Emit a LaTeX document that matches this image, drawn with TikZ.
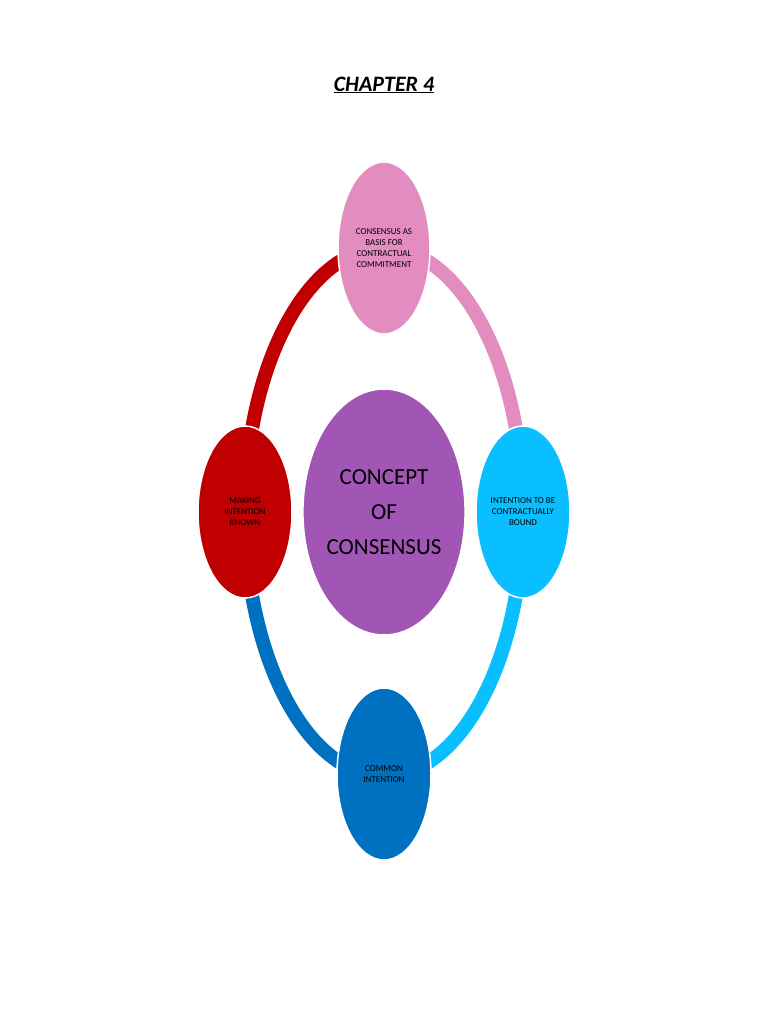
\documentclass[tikz,border=0pt]{standalone}
\usepackage{fontspec}
\setmainfont{Carlito}
\usetikzlibrary{shapes.geometric}
\definecolor{cpink}{HTML}{E38CBF}
\definecolor{cred}{HTML}{C00000}
\definecolor{cblue}{HTML}{0070C0}
\definecolor{clight}{HTML}{0ABFFF}
\definecolor{cpurple}{HTML}{A155B4}
\begin{document}
\begin{tikzpicture}[x=1pt,y=1pt,
  ring/.style={line width=14pt},
  bub/.style={ellipse,draw=white,line width=1.5pt,minimum width=94pt,minimum height=172pt,inner sep=0pt,align=center,font=\fontsize{9}{11}\selectfont,text=black}]
\useasboundingbox (0,0) rectangle (768,-1024);
\node (title) at (384,-85) {\fontsize{22}{24}\selectfont\bfseries\itshape\underline{CHAPTER 4}};
\draw[ring,cpink] (523,-512) arc[start angle=0,end angle=90,x radius=139,y radius=264];
\draw[ring,cred] (384,-248) arc[start angle=90,end angle=180,x radius=139,y radius=264];
\draw[ring,cblue] (245,-512) arc[start angle=180,end angle=270,x radius=139,y radius=264];
\draw[ring,clight] (384,-776) arc[start angle=270,end angle=360,x radius=139,y radius=264];
\node[bub,fill=cpink,minimum width=92pt,minimum height=172pt] (top) at (384,-248) {CONSENSUS AS\\BASIS FOR\\CONTRACTUAL\\COMMITMENT};
\node[bub,fill=cred] (left) at (245,-512) {MAKING\\INTENTION\\KNOWN};
\node[bub,fill=clight] (right) at (523,-512) {INTENTION TO BE\\CONTRACTUALLY\\BOUND};
\node[bub,fill=cblue] (bottom) at (384,-774) {COMMON\\INTENTION};
\node[bub,fill=cpurple,minimum width=132pt,minimum height=246pt,font=\fontsize{23}{35}\selectfont] (center) at (384,-512) {CONCEPT\\OF\\CONSENSUS};
\end{tikzpicture}
\end{document}
